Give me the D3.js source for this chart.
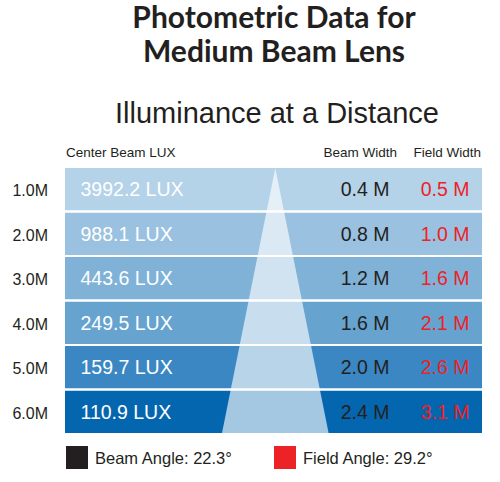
<!DOCTYPE html>
<html>
<head>
<meta charset="utf-8">
<script src="https://cdn.jsdelivr.net/npm/d3@7"></script>
<style>
  body { margin: 0; background: #fff; }
  text { font-family: "Liberation Sans", Arial, sans-serif; }
</style>
</head>
<body>
<div id="chart"></div>
<script>
// Data
var distances = ["1.0M", "2.0M", "3.0M", "4.0M", "5.0M", "6.0M"];
var meters = [1, 2, 3, 4, 5, 6];
var luxValues = [3992.2, 988.1, 443.6, 249.5, 159.7, 110.9];
var beamWidths = [0.4, 0.8, 1.2, 1.6, 2.0, 2.4];
var fieldWidths = [0.5, 1.0, 1.6, 2.1, 2.6, 3.1];
var beamAngle = 22.3;
var fieldAngle = 29.2;

var rowColors = ["#b4d2e8", "#9ac2e0", "#80b2d8", "#66a3cf", "#3a87c3", "#0566b0"];

var svgWidth = 500;
var svgHeight = 482;

var table = { left: 65, right: 482, top: 168, bottom: 433 };

var svg = d3.select("#chart")
  .append("svg")
  .attr("width", svgWidth)
  .attr("height", svgHeight);

// Titles
svg.append("text")
  .attr("x", 274).attr("y", 28)
  .attr("text-anchor", "middle")
  .style("font-family", "Lato, sans-serif")
  .style("font-weight", 700)
  .style("font-size", "30px")
  .attr("fill", "#231f20")
  .text("Photometric Data for");

svg.append("text")
  .attr("x", 274).attr("y", 62)
  .attr("text-anchor", "middle")
  .style("font-family", "Lato, sans-serif")
  .style("font-weight", 700)
  .style("font-size", "30px")
  .attr("fill", "#231f20")
  .text("Medium Beam Lens");

svg.append("text")
  .attr("x", 277).attr("y", 123)
  .attr("text-anchor", "middle")
  .style("font-size", "29px")
  .attr("fill", "#231f20")
  .text("Illuminance at a Distance");

// Column headers
var headerY = 157;
svg.append("text").attr("x", 66).attr("y", headerY)
  .style("font-size", "13.5px").attr("fill", "#231f20")
  .text("Center Beam LUX");
svg.append("text").attr("x", 397).attr("y", headerY)
  .attr("text-anchor", "end")
  .style("font-size", "13.5px").attr("fill", "#231f20")
  .text("Beam Width");
svg.append("text").attr("x", 481).attr("y", headerY)
  .attr("text-anchor", "end")
  .style("font-size", "13.5px").attr("fill", "#231f20")
  .text("Field Width");

// Scales
var yBand = d3.scaleBand()
  .domain(distances)
  .range([table.top, table.bottom])
  .paddingInner(0.045);

var yDist = d3.scaleLinear()
  .domain([0, d3.max(meters)])
  .range([table.top, table.bottom]);

var beamX = d3.scaleLinear()
  .domain([0, 2.4])
  .range([0, 106.6]);

var color = d3.scaleOrdinal()
  .domain(distances)
  .range(rowColors);

var rows = distances.map(function(d, i) {
  return { dist: d, m: meters[i], lux: luxValues[i], beam: beamWidths[i], field: fieldWidths[i] };
});

// Row bands
svg.selectAll("rect.row")
  .data(rows)
  .enter()
  .append("rect")
  .attr("class", "row")
  .attr("x", table.left)
  .attr("y", d => yBand(d.dist))
  .attr("width", table.right - table.left)
  .attr("height", yBand.bandwidth())
  .attr("fill", d => color(d.dist));

// Beam cone, widening with distance
var apexX = 275.3;
var cone = [[apexX, yDist(0)]];
cone.push([apexX + beamX(d3.max(beamWidths)) / 2, yDist(d3.max(meters))]);
cone.push([apexX - beamX(d3.max(beamWidths)) / 2, yDist(d3.max(meters))]);

svg.append("path")
  .attr("d", d3.line()(cone) + "Z")
  .attr("fill", "#fff")
  .attr("fill-opacity", 0.64);

// Gaps between rows stay white
svg.selectAll("rect.gap")
  .data(rows.slice(1))
  .enter()
  .append("rect")
  .attr("class", "gap")
  .attr("x", table.left)
  .attr("y", d => yBand(d.dist) - yBand.step() * yBand.paddingInner())
  .attr("width", table.right - table.left)
  .attr("height", yBand.step() * yBand.paddingInner())
  .attr("fill", "#fff");

var textY = d => yBand(d.dist) + yBand.bandwidth() / 2 + 7;

// Distance labels
svg.selectAll("text.dist")
  .data(rows)
  .enter()
  .append("text")
  .attr("class", "dist")
  .attr("x", 48)
  .attr("y", textY)
  .attr("text-anchor", "end")
  .style("font-size", "16px")
  .attr("fill", "#231f20")
  .text(d => d.dist);

// Lux values
svg.selectAll("text.lux")
  .data(rows)
  .enter()
  .append("text")
  .attr("class", "lux")
  .attr("x", 80.5)
  .attr("y", textY)
  .style("font-size", "19.5px")
  .attr("fill", "#fff")
  .text(d => d3.format(".1f")(d.lux) + " LUX");

// Beam widths
svg.selectAll("text.beam")
  .data(rows)
  .enter()
  .append("text")
  .attr("class", "beam")
  .attr("x", 389.5)
  .attr("y", textY)
  .attr("text-anchor", "end")
  .style("font-size", "19.5px")
  .attr("fill", "#231f20")
  .text(d => d3.format(".1f")(d.beam) + " M");

// Field widths
svg.selectAll("text.field")
  .data(rows)
  .enter()
  .append("text")
  .attr("class", "field")
  .attr("x", 469.5)
  .attr("y", textY)
  .attr("text-anchor", "end")
  .style("font-size", "19.5px")
  .attr("fill", "#ec2227")
  .text(d => d3.format(".1f")(d.field) + " M");

// Legend
var legend = [
  { label: "Beam Angle: " + beamAngle + "°", color: "#231f20", x: 66 },
  { label: "Field Angle: " + fieldAngle + "°", color: "#ec2227", x: 274 }
];

var legendG = svg.selectAll("g.legend")
  .data(legend)
  .enter()
  .append("g")
  .attr("class", "legend")
  .attr("transform", d => `translate(${d.x}, 446)`);

legendG.append("rect")
  .attr("width", 22)
  .attr("height", 23)
  .attr("fill", d => d.color);

legendG.append("text")
  .attr("x", 29)
  .attr("y", 18)
  .style("font-size", "16.5px")
  .attr("fill", "#231f20")
  .text(d => d.label);
</script>
</body>
</html>
